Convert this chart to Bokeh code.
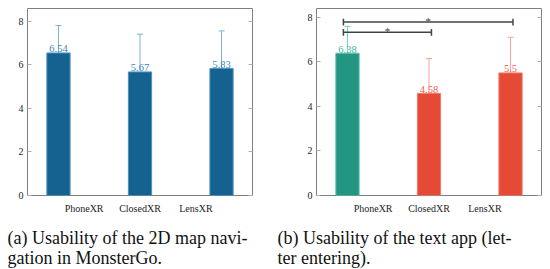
from bokeh.plotting import figure
from bokeh.layouts import row, column
from bokeh.models import FixedTicker, Range1d, LinearAxis, Whisker, TeeHead, ColumnDataSource
from bokeh.core.properties import value
from bokeh.embed import file_html
from bokeh.resources import INLINE

# ---------------- data ----------------
categories = ["PhoneXR", "ClosedXR", "LensXR"]
bar_pos = [1, 2, 3]
map_means = [6.54, 5.67, 5.83]
map_sd = [1.26, 1.73, 1.72]
map_labels = ["6.54", "5.67", "5.83"]
text_means = [6.38, 4.58, 5.5]
text_sd = [1.21, 1.57, 1.60]
text_labels = ["6.38", "4.58", "5.5"]
sig_from = [1, 1]
sig_to = [2, 3]
sig_level = [7.32, 7.78]
sig_marks = ["*", "*"]
y_ticks = [0, 2, 4, 6, 8]
caption_a = ["(a) Usability of the 2D map navi-", "gation in MonsterGo."]
caption_b = ["(b) Usability of the text app (let-", "ter entering)."]

SERIF = "Liberation Serif"
label_ticks = [2 - 0.686, 2, 2 + 0.686]
CHART_H = 216
CAP_H = 269 - CHART_H


def panel(means, sd, labels, fills, lines, errc, labc, ymax, bl, br, bt):
    p = figure(width=275, height=CHART_H, x_range=Range1d(0.62, 3.38), y_range=Range1d(0, ymax),
               output_backend="svg", toolbar_location=None, title=None,
               min_border_left=bl, min_border_right=br, min_border_top=bt,
               min_border_bottom=CHART_H - 195)
    p.grid.visible = False
    p.outline_line_color = "#808080"
    p.outline_line_width = 1
    p.background_fill_color = "white"
    p.border_fill_color = "white"

    # y axis (left)
    ya = p.yaxis[0]
    ya.ticker = FixedTicker(ticks=y_ticks)
    ya.axis_line_color = None
    ya.major_tick_in = 4
    ya.major_tick_out = 0
    ya.major_tick_line_color = "#b0b0b0"
    ya.minor_tick_line_color = None
    ya.major_label_standoff = 4
    ya.major_label_text_font = SERIF
    ya.major_label_text_font_size = "10px"
    ya.major_label_text_color = "#222222"

    # mirrored ticks on right (no labels)
    ra = LinearAxis(ticker=FixedTicker(ticks=y_ticks))
    ra.axis_line_color = None
    ra.major_tick_in = 4
    ra.major_tick_out = 0
    ra.major_tick_line_color = "#b0b0b0"
    ra.minor_tick_line_color = None
    ra.major_label_standoff = 0
    ra.major_label_overrides = {t: "" for t in y_ticks}
    p.add_layout(ra, "right")

    # x axis
    xa = p.xaxis[0]
    xa.ticker = FixedTicker(ticks=label_ticks)
    xa.major_label_overrides = {t: c for t, c in zip(label_ticks, categories)}
    xa.axis_line_color = None
    xa.major_tick_line_color = None
    xa.major_tick_out = 0
    xa.major_tick_in = 0
    xa.minor_tick_line_color = None
    xa.major_label_standoff = 7
    xa.major_label_text_font = SERIF
    xa.major_label_text_font_size = "10px"
    xa.major_label_text_color = "#222222"

    src = ColumnDataSource(dict(x=bar_pos, top=means,
                                upper=[m + s for m, s in zip(means, sd)],
                                fill=fills, line=lines, errc=errc, labc=labc, lab=labels))
    p.vbar(x="x", top="top", bottom=0, width=0.285, source=src,
           fill_color="fill", line_color="line", line_width=1)
    w = Whisker(base="x", lower="top", upper="upper", source=src, dimension="height",
                line_color="errc", line_width=1,
                upper_head=TeeHead(size=6, line_color="errc", line_width=1), lower_head=None)
    p.add_layout(w)
    p.text(x="x", y="top", text="lab", source=src, text_align="center",
           text_baseline="alphabetic", y_offset=-4, text_color="labc",
           text_font=value(SERIF), text_font_size="10.5px")
    return p


p1 = panel(map_means, map_sd, map_labels,
           ["#156290"] * 3, ["#4a92c4"] * 3, ["#7db3d6"] * 3, ["#3c86b8"] * 3,
           8.58, 27, 23, 8)

p2 = panel(text_means, text_sd, text_labels,
           ["#229683", "#e44a36", "#e44a36"], ["#4fc0aa", "#f07a68", "#f07a68"],
           ["#6ed3c0", "#f7a39a", "#f7a39a"], ["#3cb59d", "#ef5a4c", "#ef5a4c"],
           8.39, 41, 9, 7)

# significance brackets on panel (b)
bx0 = [f - 0.05 for f in sig_from]
bx1 = [t + 0.03 for t in sig_to]
sig_src = ColumnDataSource(dict(x0=bx0, x1=bx1, y=sig_level,
                                ylo=[v - 0.15 for v in sig_level],
                                yhi=[v + 0.15 for v in sig_level],
                                xm=[(a + b) / 2 for a, b in zip(bx0, bx1)],
                                mark=sig_marks))
p2.segment(x0="x0", y0="y", x1="x1", y1="y", source=sig_src, line_color="#444444", line_width=1.5)
p2.segment(x0="x0", y0="ylo", x1="x0", y1="yhi", source=sig_src, line_color="#444444", line_width=1.5)
p2.segment(x0="x1", y0="ylo", x1="x1", y1="yhi", source=sig_src, line_color="#444444", line_width=1.5)
p2.text(x="xm", y="y", text="mark", source=sig_src, text_align="center",
        text_baseline="alphabetic", y_offset=-1, text_color="#444444",
        text_font=value(SERIF), text_font_size="11px")

# captions strip (pixel-like coordinates: x from left, y from bottom)
cap = figure(width=550, height=CAP_H, x_range=Range1d(0, 550), y_range=Range1d(0, CAP_H),
             output_backend="svg", toolbar_location=None, title=None,
             x_axis_location=None, y_axis_location=None,
             min_border_left=0, min_border_right=0, min_border_top=0, min_border_bottom=0)
cap.grid.visible = False
cap.outline_line_color = None
cap_src = ColumnDataSource(dict(
    x=[7, 7, 277, 277],
    y=[32, 11.5, 32, 11.5],
    t=[caption_a[0], caption_a[1], caption_b[0], caption_b[1]],
))
cap.text(x="x", y="y", text="t", source=cap_src, text_align="left", text_baseline="alphabetic",
         text_color="#111111", text_font=value(SERIF), text_font_size="18px")

layout = column(row(p1, p2, spacing=0), cap, spacing=0)
open("out.html", "w").write(file_html(layout, INLINE))
